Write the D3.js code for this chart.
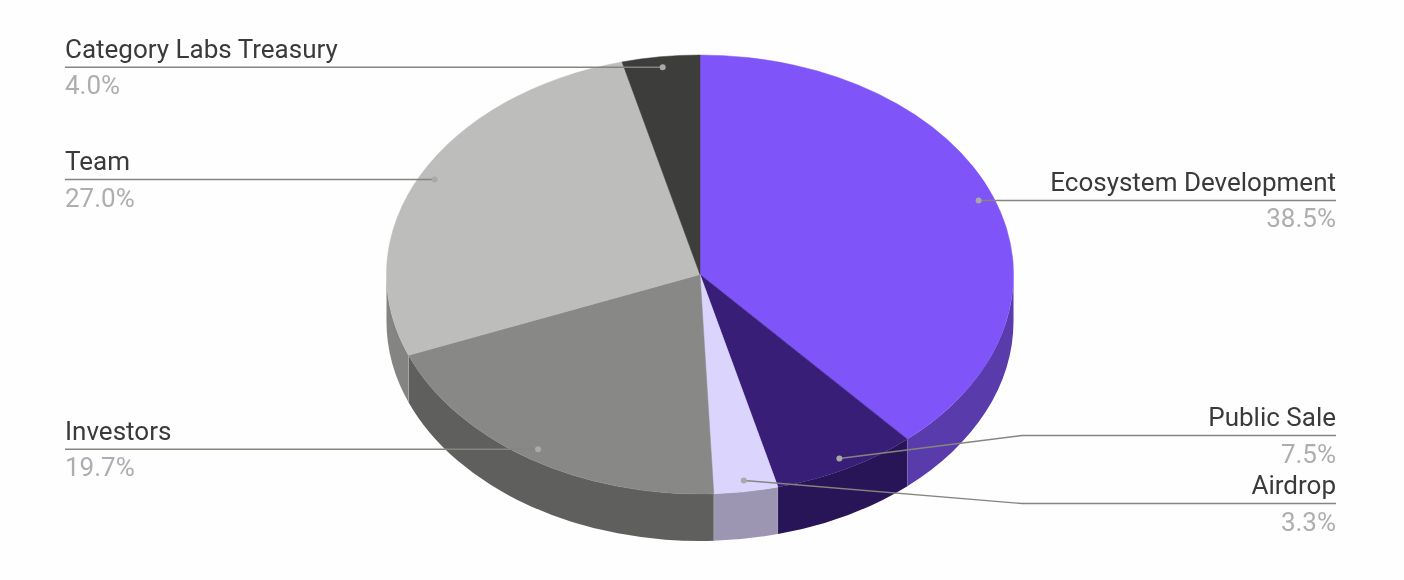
<!DOCTYPE html>
<html><head><meta charset="utf-8">
<style>html,body{margin:0;padding:0;background:#fefefe;}svg{display:block;filter:blur(.45px)}text{font-family:Roboto,sans-serif}</style>
<script src="https://cdn.jsdelivr.net/npm/d3@7/dist/d3.min.js"></script>
</head><body><div id="c"></div>
<script>
const categories=["Ecosystem Development","Public Sale","Airdrop","Investors","Team","Category Labs Treasury"];
const shares=[38.5,7.5,3.3,19.7,27.0,4.0];
const topColors=["#7f54f8","#391e78","#dbd5fe","#888886","#bdbdbc","#3d3d3b"];
const wallColors=["#5a3bab","#281558","#9c96b3","#5f5f5d","#848483","#2b2b2a"];

const W=1404,H=580,cx=700,cy=274.5,rx=313.5,ry=219.5,depth=47;
const sx=d3.scaleLinear().domain([-1,1]).range([cx-rx,cx+rx]);
const sy=d3.scaleLinear().domain([-1,1]).range([cy-ry,cy+ry]);
const px=(a,r=1)=>sx(r*Math.sin(a)), py=(a,r=1)=>sy(-r*Math.cos(a));
const arcs=d3.pie().sort(null).value(d=>d)(shares);
const svg=d3.select("#c").append("svg").attr("width",W).attr("height",H);
svg.append("rect").attr("width",W).attr("height",H).attr("fill","#fefefe");

// side walls: only the near half of the disc (90deg to 270deg)
const wallPath=(a0,a1)=>{
  const p0x=px(a0),p0y=py(a0),p1x=px(a1),p1y=py(a1);
  return `M${p0x},${p0y}A${rx},${ry} 0 0 1 ${p1x},${p1y}L${p1x},${p1y+depth}A${rx},${ry} 0 0 0 ${p0x},${p0y+depth}Z`;
};
const walls=arcs.map((d,i)=>({i,a0:Math.max(d.startAngle,Math.PI/2),a1:Math.min(d.endAngle,Math.PI*1.5)})).filter(d=>d.a1>d.a0);
svg.append("g").selectAll("path").data(walls).join("path")
  .attr("d",d=>wallPath(d.a0,d.a1)).attr("fill",d=>wallColors[d.i]);
svg.append("g").selectAll("line").data(walls.slice(1)).join("line")
  .attr("x1",d=>px(d.a0)).attr("x2",d=>px(d.a0)).attr("y1",d=>py(d.a0)).attr("y2",d=>py(d.a0)+depth)
  .attr("stroke","#ffffff").attr("stroke-opacity",.12);

// top face
const slicePath=d=>{
  const large=d.endAngle-d.startAngle>Math.PI?1:0;
  return `M${cx},${cy}L${px(d.startAngle)},${py(d.startAngle)}A${rx},${ry} 0 ${large} 1 ${px(d.endAngle)},${py(d.endAngle)}Z`;
};
svg.append("g").selectAll("path").data(arcs).join("path")
  .attr("d",slicePath).attr("fill",(d,i)=>topColors[i])
  .attr("stroke",(d,i)=>topColors[i]).attr("stroke-width",.5);

// labels and leader lines
const leftEnd=65,rightEnd=1336,elbowX=1022;
const elbowY={"Public Sale":435.5,"Airdrop":503.5};
const fmt=d3.format(".1f");
const g=svg.append("g");
arcs.forEach((d,i)=>{
  const mid=(d.startAngle+d.endAngle)/2,ax=px(mid,.95),ay=py(mid,.95)-.3;
  const right=mid<Math.PI,name=categories[i];
  const ly=elbowY[name]??ay;
  const end=right?rightEnd:leftEnd;
  const pts=elbowY[name]!==undefined?[[ax,ay],[elbowX,ly],[end,ly]]:[[ax,ay],[end,ly]];
  g.append("path").attr("d",d3.line()(pts)).attr("fill","none").attr("stroke","#85857f").attr("stroke-width",1.4);
  g.append("circle").attr("cx",ax).attr("cy",ay).attr("r",3).attr("fill","#a9a9a5");
  const anchor=right?"end":"start";
  g.append("text").attr("x",end).attr("y",ly-9.5).attr("text-anchor",anchor)
    .attr("font-size",26).attr("fill","#3a3a3a").text(name);
  g.append("text").attr("x",end).attr("y",ly+27).attr("text-anchor",anchor)
    .attr("font-size",26).attr("fill","#aeaeae").text(fmt(shares[i])+"%");
});
</script></body></html>
